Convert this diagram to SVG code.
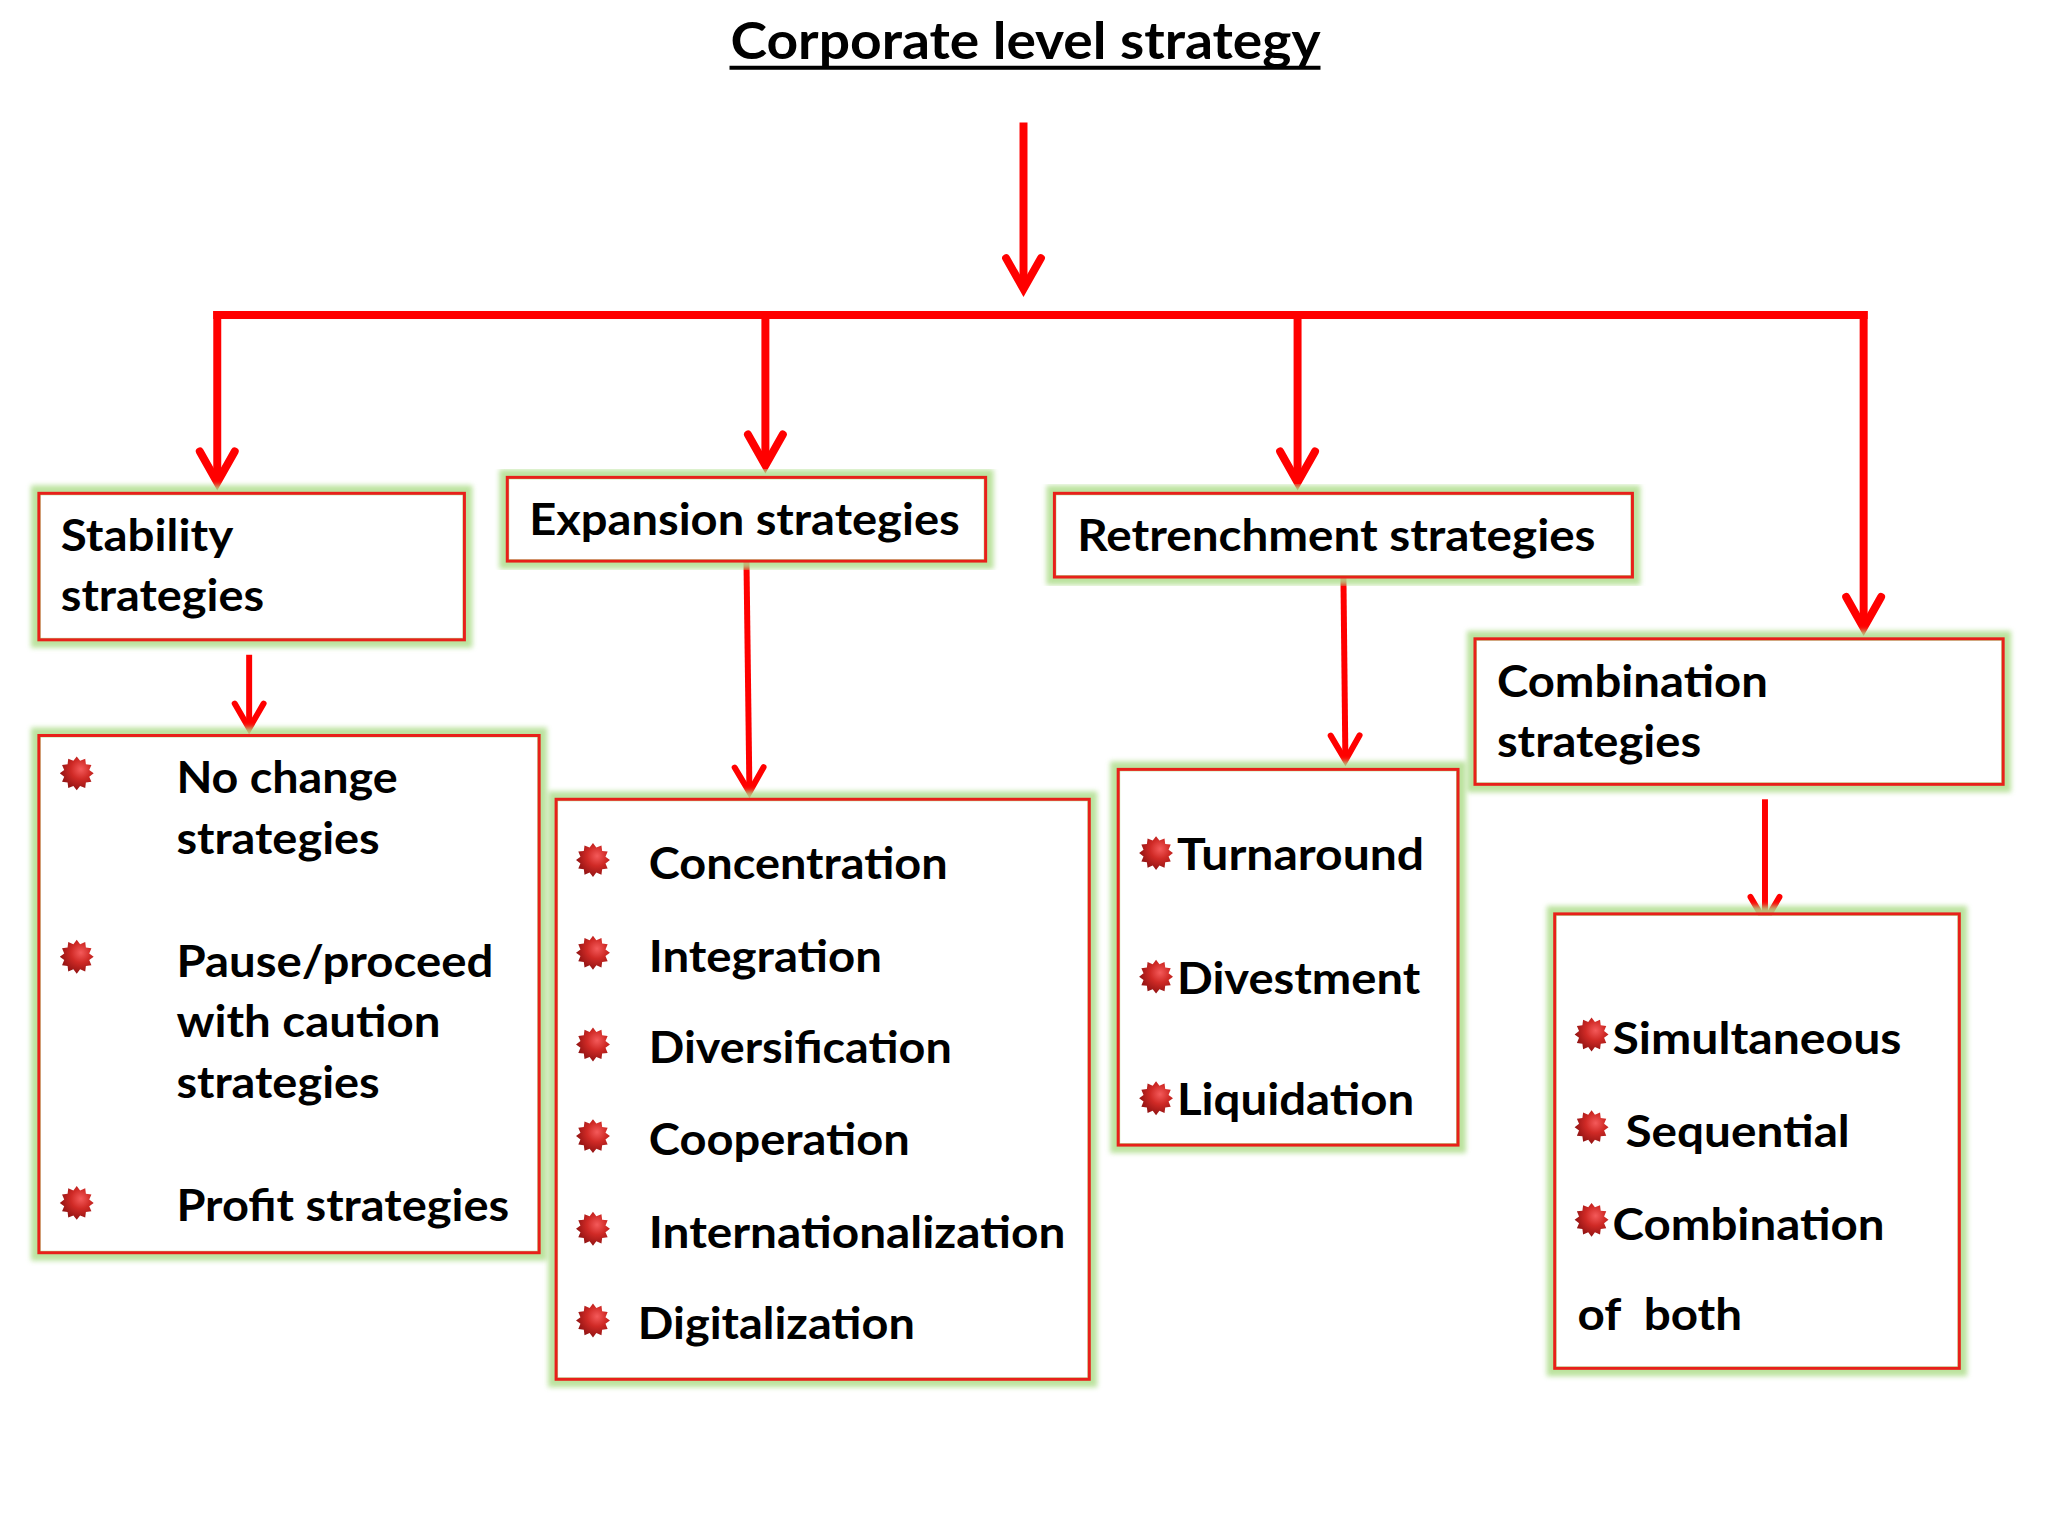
<svg xmlns="http://www.w3.org/2000/svg" xmlns:xlink="http://www.w3.org/1999/xlink" width="2048" height="1536" viewBox="0 0 2048 1536">
  <defs>
    <style>
      .t { font-family: Lato, "Liberation Sans", "DejaVu Sans", sans-serif; font-weight: bold; font-size: 45px; fill: #000; }
      .title { font-size: 51px; }
      .halo { fill: none; stroke: #b0de8e; stroke-width: 16; opacity: 0.85; filter: url(#blur); }
      .frame { fill: none; stroke: #e8201a; stroke-width: 3; }
      .bg { fill: #ffffff; }
      .main { fill: none; stroke: #ff0000; stroke-width: 8; }
      .sub { fill: none; stroke: #ff0000; stroke-width: 6; }
    </style>
    <filter id="blur" x="-10%" y="-10%" width="120%" height="120%">
      <feGaussianBlur stdDeviation="2.5"/>
    </filter>
    <radialGradient id="bulletFill" cx="62%" cy="38%" r="65%">
      <stop offset="0" stop-color="#f45a5a"/>
      <stop offset="0.45" stop-color="#d02a26"/>
      <stop offset="1" stop-color="#8e1212"/>
    </radialGradient>
    <g id="bullet">
      <polygon fill="url(#bulletFill)" points="17,0 12.56,3.37 14.72,8.5 9.19,9.19 8.5,14.72 3.37,12.56 0,17 -3.37,12.56 -8.5,14.72 -9.19,9.19 -14.72,8.5 -12.56,3.37 -17,0 -12.56,-3.37 -14.72,-8.5 -9.19,-9.19 -8.5,-14.72 -3.37,-12.56 0,-17 3.37,-12.56 8.5,-14.72 9.19,-9.19 14.72,-8.5 12.56,-3.37"/>
    </g>
    <marker id="arrowBig" markerUnits="userSpaceOnUse" viewBox="-40 -24 50 48" markerWidth="50" markerHeight="48" refX="0" refY="0" orient="auto" overflow="visible">
      <path d="M -31,-17.5 L 0,0 L -31,17.5" fill="none" stroke="#ff0000" stroke-width="8" stroke-linecap="round" stroke-linejoin="miter" stroke-miterlimit="10"/>
    </marker>
    <marker id="arrowSmall" markerUnits="userSpaceOnUse" viewBox="-34 -20 44 40" markerWidth="44" markerHeight="40" refX="0" refY="0" orient="auto" overflow="visible">
      <path d="M -25,-14.5 L 0,0 L -25,14.5" fill="none" stroke="#ff0000" stroke-width="6" stroke-linecap="round" stroke-linejoin="miter" stroke-miterlimit="10"/>
    </marker>
  </defs>

  <rect x="0" y="0" width="2048" height="1536" fill="#ffffff"/>

  <g id="diagram" transform="scale(0.9966)">
  <g id="title">
    <text class="t title" x="733" y="59" textLength="592" lengthAdjust="spacingAndGlyphs">Corporate level strategy</text>
    <line x1="732" y1="68" x2="1325" y2="68" stroke="#000" stroke-width="4"/>
  </g>

  <g id="connectors">
    <line class="main" x1="1027" y1="123" x2="1027" y2="290" marker-end="url(#arrowBig)"/>
    <line class="main" x1="214" y1="316" x2="1874" y2="316"/>
    <line class="main" x1="218" y1="312" x2="218" y2="484" marker-end="url(#arrowBig)"/>
    <line class="main" x1="768" y1="316" x2="768" y2="467" marker-end="url(#arrowBig)"/>
    <line class="main" x1="1302" y1="316" x2="1302" y2="484" marker-end="url(#arrowBig)"/>
    <line class="main" x1="1870" y1="312" x2="1870" y2="630" marker-end="url(#arrowBig)"/>
    <line class="sub" x1="250" y1="657" x2="250" y2="731" marker-end="url(#arrowSmall)"/>
    <line class="sub" x1="749" y1="562" x2="752" y2="795" marker-end="url(#arrowSmall)"/>
    <line class="sub" x1="1348" y1="578" x2="1350" y2="763" marker-end="url(#arrowSmall)"/>
    <line class="sub" x1="1771" y1="802" x2="1771" y2="925" marker-end="url(#arrowSmall)"/>
  </g>

  <g id="stability">
    <rect class="halo" x="39" y="495" width="427" height="147"/>
    <rect class="bg" x="41" y="497" width="423" height="143"/>
    <rect class="frame" x="39" y="495" width="427" height="147"/>
    <text class="t" x="61" y="553" textLength="173" lengthAdjust="spacingAndGlyphs">Stability</text>
    <text class="t" x="61" y="613" textLength="204" lengthAdjust="spacingAndGlyphs">strategies</text>
  </g>

  <g id="expansion">
    <rect class="halo" x="509" y="479" width="480" height="84"/>
    <rect class="bg" x="511" y="481" width="476" height="80"/>
    <rect class="frame" x="509" y="479" width="480" height="84"/>
    <text class="t" x="531" y="537" textLength="432" lengthAdjust="spacingAndGlyphs">Expansion strategies</text>
  </g>

  <g id="retrenchment">
    <rect class="halo" x="1058" y="495" width="580" height="84"/>
    <rect class="bg" x="1060" y="497" width="576" height="80"/>
    <rect class="frame" x="1058" y="495" width="580" height="84"/>
    <text class="t" x="1081" y="553" textLength="520" lengthAdjust="spacingAndGlyphs">Retrenchment strategies</text>
  </g>

  <g id="combination">
    <rect class="halo" x="1480" y="641" width="530" height="146"/>
    <rect class="bg" x="1482" y="643" width="526" height="142"/>
    <rect class="frame" x="1480" y="641" width="530" height="146"/>
    <text class="t" x="1502" y="699" textLength="272" lengthAdjust="spacingAndGlyphs">Combination</text>
    <text class="t" x="1502" y="760" textLength="205" lengthAdjust="spacingAndGlyphs">strategies</text>
  </g>

  <g id="stability-list">
    <rect class="halo" x="39" y="738" width="502" height="519"/>
    <rect class="bg" x="41" y="740" width="498" height="515"/>
    <rect class="frame" x="39" y="738" width="502" height="519"/>
    <use xlink:href="#bullet" href="#bullet" x="77" y="776"/>
    <use xlink:href="#bullet" href="#bullet" x="77" y="960"/>
    <use xlink:href="#bullet" href="#bullet" x="77" y="1207"/>
    <text class="t" x="177" y="796" textLength="222" lengthAdjust="spacingAndGlyphs">No change</text>
    <text class="t" x="177" y="857" textLength="204" lengthAdjust="spacingAndGlyphs">strategies</text>
    <text class="t" x="177" y="980" textLength="318" lengthAdjust="spacingAndGlyphs">Pause/proceed</text>
    <text class="t" x="177" y="1041" textLength="265" lengthAdjust="spacingAndGlyphs">with caution</text>
    <text class="t" x="177" y="1102" textLength="204" lengthAdjust="spacingAndGlyphs">strategies</text>
    <text class="t" x="177" y="1225" textLength="334" lengthAdjust="spacingAndGlyphs">Profit strategies</text>
  </g>

  <g id="expansion-list">
    <rect class="halo" x="558" y="802" width="535" height="582"/>
    <rect class="bg" x="560" y="804" width="531" height="578"/>
    <rect class="frame" x="558" y="802" width="535" height="582"/>
    <use xlink:href="#bullet" href="#bullet" x="595" y="863"/>
    <use xlink:href="#bullet" href="#bullet" x="595" y="956"/>
    <use xlink:href="#bullet" href="#bullet" x="595" y="1048"/>
    <use xlink:href="#bullet" href="#bullet" x="595" y="1140"/>
    <use xlink:href="#bullet" href="#bullet" x="595" y="1233"/>
    <use xlink:href="#bullet" href="#bullet" x="595" y="1325"/>
    <text class="t" x="651" y="882" textLength="300" lengthAdjust="spacingAndGlyphs">Concentration</text>
    <text class="t" x="651" y="975" textLength="234" lengthAdjust="spacingAndGlyphs">Integration</text>
    <text class="t" x="651" y="1067" textLength="304" lengthAdjust="spacingAndGlyphs">Diversification</text>
    <text class="t" x="651" y="1159" textLength="262" lengthAdjust="spacingAndGlyphs">Cooperation</text>
    <text class="t" x="651" y="1252" textLength="418" lengthAdjust="spacingAndGlyphs">Internationalization</text>
    <text class="t" x="640" y="1344" textLength="278" lengthAdjust="spacingAndGlyphs">Digitalization</text>
  </g>

  <g id="retrenchment-list">
    <rect class="halo" x="1122" y="772" width="341" height="377"/>
    <rect class="bg" x="1124" y="774" width="337" height="373"/>
    <rect class="frame" x="1122" y="772" width="341" height="377"/>
    <use xlink:href="#bullet" href="#bullet" x="1160" y="856"/>
    <use xlink:href="#bullet" href="#bullet" x="1160" y="980"/>
    <use xlink:href="#bullet" href="#bullet" x="1160" y="1102"/>
    <text class="t" x="1181" y="873" textLength="248" lengthAdjust="spacingAndGlyphs">Turnaround</text>
    <text class="t" x="1181" y="997" textLength="244" lengthAdjust="spacingAndGlyphs">Divestment</text>
    <text class="t" x="1181" y="1119" textLength="238" lengthAdjust="spacingAndGlyphs">Liquidation</text>
  </g>

  <g id="combination-list">
    <rect class="halo" x="1560" y="917" width="406" height="456"/>
    <rect class="bg" x="1562" y="919" width="402" height="452"/>
    <rect class="frame" x="1560" y="917" width="406" height="456"/>
    <use xlink:href="#bullet" href="#bullet" x="1597" y="1038"/>
    <use xlink:href="#bullet" href="#bullet" x="1597" y="1131"/>
    <use xlink:href="#bullet" href="#bullet" x="1597" y="1224"/>
    <text class="t" x="1618" y="1058" textLength="290" lengthAdjust="spacingAndGlyphs">Simultaneous</text>
    <text class="t" x="1631" y="1151" textLength="225" lengthAdjust="spacingAndGlyphs">Sequential</text>
    <text class="t" x="1618" y="1244" textLength="273" lengthAdjust="spacingAndGlyphs">Combination</text>
    <text class="t" x="1583" y="1335" textLength="165" lengthAdjust="spacingAndGlyphs" xml:space="preserve">of  both</text>
  </g>
  </g>
</svg>
